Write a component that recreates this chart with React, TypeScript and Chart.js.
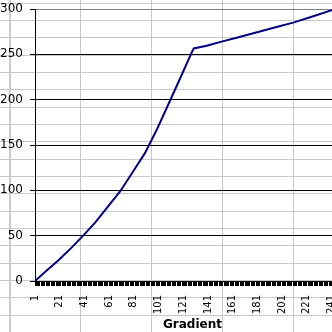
import React, { useEffect, useRef } from "react";
import { Chart, registerables } from "chart.js";

Chart.register(...registerables);

// Data
const gradientSteps = [1, 10, 20, 30, 40, 50, 60, 70, 80, 90, 100, 110, 120, 127.5, 129.5, 140, 152, 165, 180, 195, 210, 225, 242];
const gradientValues = [0, 11, 23, 36, 50, 65, 82, 99, 120, 141, 168, 198, 228, 251, 256.5, 259.5, 264, 268.5, 274, 279.5, 285, 291.5, 299];
const xMin = 1;
const xMax = 256;
const xLabelEvery = 20;
const yMin = 0;
const yMax = 300;
const yStep = 50;
const xTitle = "Gradient";

// Spreadsheet cell lines behind the (transparent) chart
const sheetCols = [80, 151, 222, 293];
const sheetRows = [3, 20, 37, 55, 72, 89, 107, 124, 141, 159, 176, 193, 211, 228, 245, 263, 280, 297, 315];

const sheetPlugin = {
  id: "sheet",
  beforeDraw(chart: any) {
    const ctx = chart.ctx;
    ctx.save();
    ctx.fillStyle = "#ffffff";
    ctx.fillRect(0, 0, chart.width, chart.height);
    ctx.strokeStyle = "#c8c8c8";
    ctx.lineWidth = 1;
    for (const y of sheetRows) {
      ctx.beginPath();
      ctx.moveTo(0, y + 0.5);
      ctx.lineTo(chart.width, y + 0.5);
      ctx.stroke();
    }
    for (const x of sheetCols) {
      ctx.beginPath();
      ctx.moveTo(x + 0.5, 0);
      ctx.lineTo(x + 0.5, chart.height);
      ctx.stroke();
    }
    ctx.lineWidth = 2;
    ctx.strokeStyle = "#cccccc";
    ctx.beginPath();
    ctx.moveTo(10, 0);
    ctx.lineTo(10, chart.height);
    ctx.stroke();
    ctx.restore();
  },
};

export default function App() {
  const ref = useRef<HTMLCanvasElement | null>(null);

  useEffect(() => {
    if (!ref.current) return;
    Chart.defaults.font.family = "'DejaVu Sans', Verdana, sans-serif";
    const points = gradientSteps.map((x, i) => ({ x, y: gradientValues[i] }));
    const chart = new Chart(ref.current, {
      type: "line",
      data: {
        datasets: [
          {
            data: points,
            borderColor: "#000080",
            borderWidth: 2,
            pointRadius: 0,
            tension: 0,
            fill: false,
          },
        ],
      },
      options: {
        animation: false,
        responsive: false,
        devicePixelRatio: 1,
        events: [],
        layout: { padding: { left: 0, top: 9, right: 10, bottom: 0 } },
        plugins: { legend: { display: false }, tooltip: { enabled: false } },
        scales: {
          x: {
            type: "linear",
            min: xMin,
            max: xMax,
            afterFit: (s: any) => {
              s.height = 51;
              s.paddingLeft = 0;
              s.paddingRight = 0;
            },
            border: { display: true, color: "#000000", width: 1 },
            grid: {
              drawOnChartArea: false,
              drawTicks: true,
              tickLength: 5,
              tickColor: "#000000",
              color: "#000000",
            },
            ticks: {
              stepSize: 1,
              autoSkip: false,
              minRotation: 90,
              maxRotation: 90,
              padding: 9,
              color: "#000000",
              font: { size: 10 },
              callback: (v: any) => ((Number(v) - xMin) % xLabelEvery === 0 ? String(v) : ""),
            },
            title: {
              display: true,
              text: xTitle,
              color: "#000000",
              font: { size: 12, weight: "bold" },
              padding: { top: 0, bottom: 0 },
            },
          },
          y: {
            type: "linear",
            min: yMin,
            max: yMax,
            afterFit: (s: any) => {
              s.width = 35;
              s.paddingTop = 0;
              s.paddingBottom = 0;
            },
            border: { display: true, color: "#000000", width: 1 },
            grid: {
              drawTicks: true,
              tickLength: 5,
              tickColor: "#000000",
              color: (c: any) => (c.tick && c.tick.value === yMax ? "#808080" : "#000000"),
            },
            ticks: {
              stepSize: yStep,
              padding: 7,
              color: "#000000",
              font: { size: 12 },
            },
          },
        },
      },
      plugins: [sheetPlugin],
    });
    return () => chart.destroy();
  }, []);

  return (
    <div style={{ position: "fixed", left: 0, top: 0, width: 332, height: 332, overflow: "hidden", background: "#fff" }}>
      <canvas ref={ref} width={360} height={332} style={{ display: "block" }} />
    </div>
  );
}
